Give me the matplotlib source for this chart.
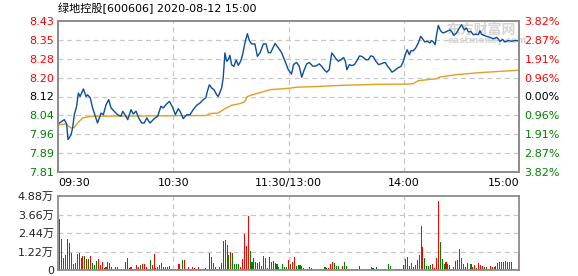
import matplotlib
matplotlib.use("Agg")
import matplotlib.pyplot as plt

plt.rcParams['font.family'] = ['DejaVu Sans', 'Noto Sans CJK SC']

TITLE = "绿地控股[600606] 2020-08-12 15:00"
PREV_CLOSE = 8.12

price_labels = ["8.43", "8.35", "8.28", "8.20", "8.12", "8.04", "7.96", "7.89", "7.81"]
pct_labels = ["3.82%", "2.87%", "1.91%", "0.96%", "0.00%", "0.96%", "1.91%", "2.87%", "3.82%"]
time_labels = ["09:30", "10:30", "11:30/13:00", "14:00", "15:00"]
vol_ticks = [0, 1.22, 2.44, 3.66, 4.88]
vol_labels = ["0", "1.22万", "2.44万", "3.66万", "4.88万"]

# minutes since 9:30 (lunch break removed) and last price
price_minute = [
    0.7, 3.3, 4.5, 5.2, 6.8, 7.6, 8.5, 9.7, 10.6, 11.5, 13.2, 14.6, 15.4, 16.8, 18.0,
    19.4, 20.6, 22.4, 23.6, 25.0, 26.4, 27.6, 29.3, 31.0, 32.8, 33.7, 34.9, 36.3, 38.0,
    39.2, 40.6, 42.0, 43.6, 44.9, 46.2, 47.9, 50.1, 51.9, 53.6, 54.8, 56.6, 58.0, 59.7,
    61.1, 62.6, 63.5, 65.2, 67.0, 68.7, 70.4, 72.2, 73.9, 75.6, 77.0, 77.7, 78.8, 80.0,
    81.2, 82.6, 83.4, 85.2, 86.0, 86.9, 87.8, 88.7, 89.5, 90.4, 91.6, 92.7, 93.9, 95.1,
    96.1, 97.3, 98.6, 99.6, 100.8, 102.5, 103.8, 105.2, 106.9, 108.3, 109.5, 110.7,
    113.0, 114.7, 116.4, 118.2, 119.9, 121.6, 122.6, 124.2, 125.6, 126.9, 128.2, 129.5,
    130.8, 132.6, 134.3, 136.0, 137.3, 138.6, 139.9, 141.2, 142.5, 143.5, 144.7, 145.9,
    147.3, 148.7, 149.6, 150.4, 151.7, 153.0, 154.3, 155.5, 156.9, 157.7, 158.9, 160.3,
    161.5, 162.9, 164.1, 165.5, 166.9, 168.1, 169.3, 170.4, 171.6, 172.4, 173.9, 175.1,
    176.8, 178.6, 179.8, 180.8, 181.8, 182.9, 183.8, 185.0, 186.2, 187.6, 188.8, 189.8,
    191.0, 192.2, 193.6, 194.5, 195.4, 196.3, 197.1, 198.0, 198.9, 199.7, 200.6, 202.3,
    204.1, 204.9, 206.1, 207.5, 208.9, 210.1, 211.5, 212.7, 213.6, 215.0, 216.2, 217.6,
    218.8, 219.7, 220.5, 221.8, 223.2, 224.9, 226.6, 228.4, 230.1, 231.5, 232.7, 234.4,
    236.2, 237.9, 239.6,
]
price_value = [
    8.011, 8.025, 8.007, 7.943, 7.963, 7.990, 8.045, 8.080, 8.134, 8.120, 8.151, 8.120,
    8.127, 8.114, 8.073, 8.039, 8.011, 8.052, 8.045, 8.086, 8.107, 8.073, 8.059, 8.045,
    8.039, 8.059, 8.045, 8.025, 8.066, 8.048, 8.060, 8.032, 8.011, 8.011, 8.032, 8.011,
    8.029, 8.039, 8.080, 8.073, 8.090, 8.100, 8.075, 8.045, 8.070, 8.060, 8.029, 8.045,
    8.045, 8.066, 8.084, 8.093, 8.107, 8.115, 8.140, 8.168, 8.155, 8.148, 8.127, 8.120,
    8.155, 8.196, 8.299, 8.265, 8.272, 8.289, 8.250, 8.244, 8.270, 8.248, 8.265, 8.292,
    8.340, 8.378, 8.350, 8.336, 8.336, 8.285, 8.300, 8.336, 8.336, 8.300, 8.300, 8.338,
    8.320, 8.300, 8.265, 8.230, 8.212, 8.251, 8.260, 8.244, 8.199, 8.230, 8.254, 8.260,
    8.245, 8.245, 8.254, 8.244, 8.230, 8.220, 8.230, 8.299, 8.289, 8.275, 8.265, 8.271,
    8.280, 8.265, 8.230, 8.251, 8.247, 8.251, 8.265, 8.286, 8.286, 8.281, 8.271, 8.271,
    8.287, 8.284, 8.265, 8.251, 8.254, 8.258, 8.260, 8.244, 8.237, 8.220, 8.226, 8.237,
    8.244, 8.265, 8.292, 8.312, 8.292, 8.308, 8.308, 8.319, 8.340, 8.367, 8.357, 8.344,
    8.347, 8.340, 8.350, 8.344, 8.333, 8.374, 8.412, 8.394, 8.385, 8.381, 8.387, 8.394,
    8.387, 8.371, 8.381, 8.401, 8.415, 8.394, 8.401, 8.385, 8.387, 8.374, 8.376, 8.374,
    8.390, 8.376, 8.371, 8.367, 8.363, 8.357, 8.363, 8.347, 8.354, 8.344, 8.350, 8.347,
    8.350, 8.349,
]

# average price line
avg_minute = [0, 4.2, 6.8, 8.5, 10.2, 12.8, 15.4, 17.2, 40, 61, 77.4, 79.1, 83.4, 86.9,
              90.4, 93.0, 95.6, 97.3, 98.6, 100.8, 105.2, 108.6, 110.4, 117.3, 121.6,
              123.9, 137.8, 148.2, 166.4, 182.0, 185.0, 187.6, 197.1, 198.9, 207.5,
              221.4, 240]
avg_value = [8.003, 8.007, 7.990, 7.993, 8.011, 8.032, 8.036, 8.039, 8.040, 8.041, 8.042,
             8.050, 8.052, 8.070, 8.084, 8.088, 8.093, 8.100, 8.120, 8.126, 8.136, 8.144,
             8.148, 8.152, 8.155, 8.158, 8.162, 8.166, 8.170, 8.171, 8.173, 8.185, 8.193,
             8.200, 8.210, 8.219, 8.228]

# volume per minute (万), minutes 1..240, and r = up / g = down
volume = [
    3.39, 2.06, 0.80, 1.00, 2.06, 1.80, 1.13, 0.40, 0.47, 1.06, 1.13, 0.80, 0.95, 0.93, 0.73, 0.73, 0.93, 0.44, 0.33, 0.60,
    0.73, 0.33, 0.51, 0.13, 0.20, 0.53, 0.47, 0.20, 0.07, 0.20, 0.20, 0.07, 0.07, 0.07, 0.53, 0.80, 0.13, 0.20, 0.07, 0.07,
    0.33, 0.20, 0.33, 0.40, 0.40, 0.20, 0.07, 0.67, 0.33, 1.06, 0.13, 0.20, 0.33, 0.47, 0.20, 0.20, 0.20, 0.29, 0.07, 0.07,
    0.07, 0.07, 0.40, 0.07, 0.67, 0.67, 0.07, 0.20, 0.07, 0.20, 0.13, 0.07, 0.20, 0.07, 0.07, 0.07, 0.13, 0.07, 1.11, 0.84,
    0.47, 0.20, 0.07, 0.20, 0.47, 1.93, 2.00, 1.66, 1.00, 1.18, 1.11, 0.40, 0.40, 0.40, 0.20, 0.73, 2.40, 1.60, 3.59, 1.26,
    0.53, 0.80, 0.53, 0.47, 0.53, 0.27, 0.93, 0.80, 0.13, 0.87, 0.53, 0.60, 0.47, 0.40, 0.20, 0.07, 0.40, 0.20, 0.20, 0.67,
    0.40, 0.53, 0.87, 0.27, 0.33, 0.33, 0.27, 0.13, 0.07, 0.07, 0.20, 0.13, 0.07, 0.07, 0.07, 0.07, 0.07, 0.07, 0.20, 0.13,
    0.13, 0.40, 0.53, 0.47, 0.27, 0.27, 0.07, 0.27, 0.53, 0.27, 0.07, 0.07, 0.07, 0.07, 0.07, 0.07, 0.27, 0.07, 0.07, 0.07,
    0.07, 0.07, 0.20, 0.13, 0.07, 0.20, 0.07, 0.07, 0.07, 0.07, 0.07, 0.40, 0.27, 0.07, 0.07, 0.07, 0.07, 0.07, 0.07, 0.33,
    0.73, 0.87, 0.27, 0.47, 0.20, 0.33, 0.67, 1.00, 2.93, 1.53, 0.80, 0.27, 0.27, 0.33, 0.40, 0.13, 0.80, 4.52, 1.86, 0.73,
    0.40, 0.53, 0.40, 0.33, 0.07, 0.20, 0.60, 0.67, 1.40, 0.80, 0.40, 0.20, 0.47, 0.07, 0.40, 0.20, 0.33, 0.13, 0.47, 0.33,
    0.27, 0.20, 0.20, 0.07, 0.27, 0.20, 0.20, 0.27, 0.47, 0.53, 0.53, 0.53, 0.60, 0.53, 0.53, 0.53, 0.07, 0.07, 0.07, 1.06,
]
vol_side = (
    "rrrggrrrrrgrrgrgrggg"
    "rrrgrrggrggrgrggrrrg"
    "rrgrrrrgrrrgrrggrgrg"
    "grrggrrrrrrrrrrrgrrg"
    "rggrrrrggrggggrrrrrg"
    "grrgrgrrggrrrggrgggr"
    "grrgggrrrrgrrrrrrrgg"
    "rrrgggrrggrrrrrrrggg"
    "grrgggggggggggrrrrrr"
    "rrgrrrrrrrggggrrrrgg"
    "grrrrrrrrrggrggrrgrr"
    "rggrrrggrgggrrrgrrrr"
)

RED = "#FF0000"
GREEN = "#008000"
GRID = "#C8C8C8"
SPINE = "#8C8C8C"


def label_color(i, mid):
    if i < mid:
        return RED
    if i == mid:
        return "black"
    return GREEN


def style_box(ax):
    for s in ax.spines.values():
        s.set_color(SPINE)
        s.set_linewidth(1.3)
    ax.tick_params(length=0)


def main():
    fig = plt.figure(figsize=(5.78, 2.76), dpi=100)
    W, H = 578, 276

    # price panel
    ax = fig.add_axes([58 / W, (H - 172) / H, 461 / W, 151 / H])
    span = PREV_CLOSE * 0.0382
    lo, hi = PREV_CLOSE - span, PREV_CLOSE + span
    ax.set_xlim(0, 240)
    ax.set_ylim(lo, hi)
    levels = [hi - i * (hi - lo) / 8 for i in range(9)]
    for y in levels[1:-1]:
        ax.axhline(y, color=GRID, lw=0.9, ls=(0, (4, 3)), zorder=0)
    for x in (60, 120, 180):
        ax.axvline(x, color=GRID, lw=0.9, ls=(0, (4, 3)), zorder=0)

    # faint watermark in the upper right corner
    ax.text(202, 8.393, "东方财富网", fontsize=10, color="#D4D4D4", ha="left",
            va="center", zorder=1, fontweight="bold")
    ax.text(203, 8.350, "eastmoney.com", fontsize=6.5, color="#D4D4D4",
            fontweight="bold", ha="left", va="center", zorder=1)

    ax.plot(avg_minute, avg_value, color="#E0A020", lw=1.0, zorder=2)
    ax.plot(price_minute, price_value, color="#0A4E9E", lw=1.0, zorder=3)

    ax.set_yticks(levels)
    ax.set_yticklabels(price_labels, fontsize=8)
    for i, t in enumerate(ax.get_yticklabels()):
        t.set_color(label_color(i, 4))
    ax.set_xticks([])
    style_box(ax)
    ax.tick_params(axis="y", pad=3)

    ax2 = ax.twinx()
    ax2.set_ylim(lo, hi)
    ax2.set_yticks(levels)
    ax2.set_yticklabels(pct_labels, fontsize=8)
    for i, t in enumerate(ax2.get_yticklabels()):
        t.set_color(label_color(i, 4))
    style_box(ax2)
    ax2.tick_params(axis="y", pad=4)

    # time labels under the price panel
    aligns = ["left", "center", "center", "center", "right"]
    for x, lab, ha in zip((0, 60, 120, 180, 240), time_labels, aligns):
        ax.text(x, -0.07, lab, transform=ax.get_xaxis_transform(), ha=ha,
                va="center", fontsize=8)

    fig.text(58 / W, 1 - 8 / H, TITLE, fontsize=8, ha="left", va="center")

    # volume panel
    vx = fig.add_axes([58 / W, (H - 270) / H, 461 / W, 74 / H])
    minutes = list(range(1, len(volume) + 1))
    colors = [RED if c == "r" else GREEN for c in vol_side]
    vx.bar(minutes, volume, width=0.55, color=colors, linewidth=0, zorder=2,
           antialiased=False)
    vx.set_xlim(0, 240)
    vx.set_ylim(0, 4.88)
    for y in vol_ticks[1:-1]:
        vx.axhline(y, color=GRID, lw=0.9, ls=(0, (4, 3)), zorder=0)
    for x in (60, 120, 180):
        vx.axvline(x, color=GRID, lw=0.9, ls=(0, (4, 3)), zorder=0)
    vx.set_yticks(vol_ticks)
    vx.set_yticklabels(vol_labels, fontsize=8, color="#222222")
    vx.set_xticks([])
    style_box(vx)
    vx.tick_params(axis="y", pad=3)

    fig.savefig("out.png", dpi=100)


if __name__ == '__main__':
    main()
